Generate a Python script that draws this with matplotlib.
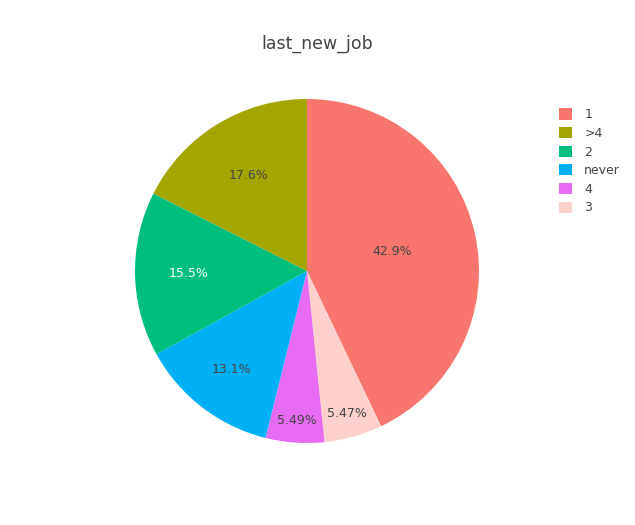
import numpy as np
import matplotlib.pyplot as plt
from matplotlib.patches import Patch

# last_new_job counts (legend order, descending)
labels = ["1", ">4", "2", "never", "4", "3"]
counts = [8040, 3290, 2900, 2452, 1029, 1024]
colors = ["#F8766D", "#A3A500", "#00BF7D", "#00B0F6", "#E76BF3", "#FDD0CC"]

# clockwise drawing order as in the reference
draw_order = ["1", "3", "4", "never", "2", ">4"]
text_r = {"1": 0.51, "3": 0.86, "4": 0.87, "never": 0.72, "2": 0.69, ">4": 0.65}
text_col = {"2": "white"}

fig = plt.figure(figsize=(6.35, 5.25), dpi=100)
# pie centre at (307, 271) px, radius ~172 px
cx, cy, r = 307, 271, 172
W, H = 635, 525
ax = fig.add_axes([(cx - r) / W, 1 - (cy + r) / H, 2 * r / W, 2 * r / H])

idx = [labels.index(l) for l in draw_order]
vals = [counts[i] for i in idx]
cols = [colors[i] for i in idx]
wedges, _ = ax.pie(vals, colors=cols, startangle=90, counterclock=False,
                   radius=1, wedgeprops=dict(linewidth=0))
ax.set_xlim(-1, 1)
ax.set_ylim(-1, 1)
ax.set_aspect("equal")
ax.axis("off")

total = sum(counts)
for w, lab, v in zip(wedges, draw_order, vals):
    mid = np.deg2rad((w.theta1 + w.theta2) / 2)
    rr = text_r[lab]
    pct = 100 * v / total
    s = f"{pct:.3g}%"
    ax.text(rr * np.cos(mid), rr * np.sin(mid), s, ha="center", va="center",
            fontsize=9, color=text_col.get(lab, "#444444"))

fig.text(0.5, 1 - 44 / H, "last_new_job", ha="center", va="center",
         fontsize=12.5, color="#444444")

handles = [Patch(facecolor=c, edgecolor="none") for c in colors]
fig.legend(handles, labels, loc="upper left", bbox_to_anchor=(548 / W, 1 - 97 / H),
           frameon=False, fontsize=9, labelcolor="#444444", handlelength=1.0,
           handleheight=1.0, handletextpad=1.0, labelspacing=0.45)

fig.savefig("out.png", dpi=100)
